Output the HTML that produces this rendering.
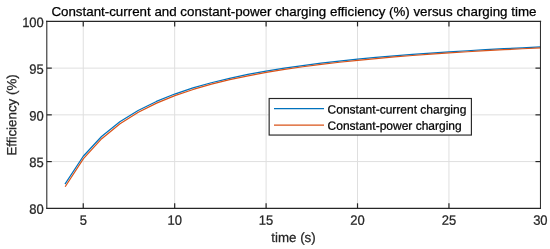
<!DOCTYPE html>
<html><head><meta charset="utf-8"><title>Charging efficiency</title>
<style>
html,body{margin:0;padding:0;background:#fff;}
svg{display:block;font-family:"Liberation Sans",Arial,sans-serif;}
</style></head><body>
<svg width="550" height="249" viewBox="0 0 550 249">
<rect x="0" y="0" width="550" height="249" fill="#fff"/>
<g stroke="#dfdfdf" stroke-width="1" fill="none"><line x1="83.25" y1="21.4" x2="83.25" y2="208.3"/><line x1="174.68" y1="21.4" x2="174.68" y2="208.3"/><line x1="266.10" y1="21.4" x2="266.10" y2="208.3"/><line x1="357.52" y1="21.4" x2="357.52" y2="208.3"/><line x1="448.95" y1="21.4" x2="448.95" y2="208.3"/><line x1="46.8" y1="161.58" x2="540.45" y2="161.58"/><line x1="46.8" y1="114.85" x2="540.45" y2="114.85"/><line x1="46.8" y1="68.12" x2="540.45" y2="68.12"/></g>
<g fill="none" stroke-width="1.22" stroke-linejoin="round">
<polyline stroke="#0072bd" points="64.97,184.06 83.25,156.23 101.53,136.52 119.82,121.84 138.11,110.49 156.39,101.43 174.68,94.05 192.96,87.92 211.25,82.74 229.53,78.31 247.81,74.47 266.10,71.12 284.38,68.17 302.67,65.55 320.96,63.21 339.24,61.10 357.52,59.20 375.81,57.47 394.10,55.89 412.38,54.44 430.67,53.11 448.95,51.88 467.24,50.75 485.52,49.69 503.81,48.71 522.09,47.80 540.38,46.94"/>
<polyline stroke="#d95319" points="65.17,186.76 83.45,158.62 101.73,138.69 120.02,123.83 138.31,112.32 156.59,103.16 174.88,95.68 193.16,89.46 211.44,84.21 229.73,79.71 248.01,75.83 266.30,72.43 284.58,69.43 302.87,66.77 321.16,64.40 339.44,62.26 357.72,60.33 376.01,58.57 394.30,56.97 412.58,55.50 430.87,54.15 449.15,52.91 467.44,51.75 485.72,50.68 504.00,49.69 522.29,48.76 540.58,47.89"/>
</g>
<g stroke="#262626" stroke-width="1.2" fill="none"><line x1="83.25" y1="208.3" x2="83.25" y2="203.3"/><line x1="83.25" y1="21.4" x2="83.25" y2="26.4"/><line x1="174.68" y1="208.3" x2="174.68" y2="203.3"/><line x1="174.68" y1="21.4" x2="174.68" y2="26.4"/><line x1="266.10" y1="208.3" x2="266.10" y2="203.3"/><line x1="266.10" y1="21.4" x2="266.10" y2="26.4"/><line x1="357.52" y1="208.3" x2="357.52" y2="203.3"/><line x1="357.52" y1="21.4" x2="357.52" y2="26.4"/><line x1="448.95" y1="208.3" x2="448.95" y2="203.3"/><line x1="448.95" y1="21.4" x2="448.95" y2="26.4"/><line x1="46.8" y1="161.58" x2="51.8" y2="161.58"/><line x1="540.45" y1="161.58" x2="535.45" y2="161.58"/><line x1="46.8" y1="114.85" x2="51.8" y2="114.85"/><line x1="540.45" y1="114.85" x2="535.45" y2="114.85"/><line x1="46.8" y1="68.12" x2="51.8" y2="68.12"/><line x1="540.45" y1="68.12" x2="535.45" y2="68.12"/>
</g>
<g stroke="#262626" fill="none" stroke-linecap="square"><line x1="46.8" y1="21.4" x2="46.8" y2="208.3" stroke-width="1.06"/><line x1="540.45" y1="21.4" x2="540.45" y2="208.3" stroke-width="1.0"/><line x1="46.8" y1="21.4" x2="540.45" y2="21.4" stroke-width="1.35"/><line x1="46.8" y1="208.3" x2="540.45" y2="208.3" stroke-width="1.15"/></g>
<text transform="translate(83.25,224.70) rotate(0.05) scale(1,1.04)" font-size="13px" text-anchor="middle" fill="#262626" stroke="#262626" stroke-width="0.25">5</text><text transform="translate(174.68,224.70) rotate(0.05) scale(1,1.04)" font-size="13px" text-anchor="middle" fill="#262626" stroke="#262626" stroke-width="0.25">10</text><text transform="translate(266.10,224.70) rotate(0.05) scale(1,1.04)" font-size="13px" text-anchor="middle" fill="#262626" stroke="#262626" stroke-width="0.25">15</text><text transform="translate(357.52,224.70) rotate(0.05) scale(1,1.04)" font-size="13px" text-anchor="middle" fill="#262626" stroke="#262626" stroke-width="0.25">20</text><text transform="translate(448.95,224.70) rotate(0.05) scale(1,1.04)" font-size="13px" text-anchor="middle" fill="#262626" stroke="#262626" stroke-width="0.25">25</text><text transform="translate(540.38,224.70) rotate(0.05) scale(1,1.04)" font-size="13px" text-anchor="middle" fill="#262626" stroke="#262626" stroke-width="0.25">30</text><text transform="translate(43.80,213.85) rotate(0.05) scale(1,1.04)" font-size="13px" text-anchor="end" fill="#262626" stroke="#262626" stroke-width="0.25">80</text><text transform="translate(43.80,167.13) rotate(0.05) scale(1,1.04)" font-size="13px" text-anchor="end" fill="#262626" stroke="#262626" stroke-width="0.25">85</text><text transform="translate(43.80,120.40) rotate(0.05) scale(1,1.04)" font-size="13px" text-anchor="end" fill="#262626" stroke="#262626" stroke-width="0.25">90</text><text transform="translate(43.80,73.67) rotate(0.05) scale(1,1.04)" font-size="13px" text-anchor="end" fill="#262626" stroke="#262626" stroke-width="0.25">95</text><text transform="translate(43.80,26.95) rotate(0.05) scale(1,1.04)" font-size="13px" text-anchor="end" fill="#262626" stroke="#262626" stroke-width="0.25">100</text>
<text transform="translate(293.90,16.00) rotate(0)" font-size="13.33px" text-anchor="middle" fill="#000" stroke="#000" stroke-width="0.25">Constant-current and constant-power charging efficiency (%) versus charging time</text>
<text transform="translate(293.50,242.00) rotate(0.05)" font-size="13.33px" text-anchor="middle" fill="#262626" stroke="#262626" stroke-width="0.25">time (s)</text>
<text transform="translate(16.30,114.95) rotate(-89.95)" font-size="13.33px" text-anchor="middle" fill="#262626" stroke="#262626" stroke-width="0.25">Efficiency (%)</text>
<rect x="269.15" y="98.5" width="202.25" height="36.55" fill="#fff" stroke="#262626" stroke-width="1.15"/>
<line x1="274" y1="108.65" x2="324" y2="108.65" stroke="#0072bd" stroke-width="1.4"/>
<line x1="274" y1="125.1" x2="324" y2="125.1" stroke="#d95319" stroke-width="1.4"/>
<text transform="translate(327.60,113.40) rotate(0.05)" font-size="12px" text-anchor="start" fill="#000" stroke="#000" stroke-width="0.25">Constant-current charging</text>
<text transform="translate(327.60,129.70) rotate(0.05)" font-size="12px" text-anchor="start" fill="#000" stroke="#000" stroke-width="0.25">Constant-power charging</text>
</svg>
</body></html>
